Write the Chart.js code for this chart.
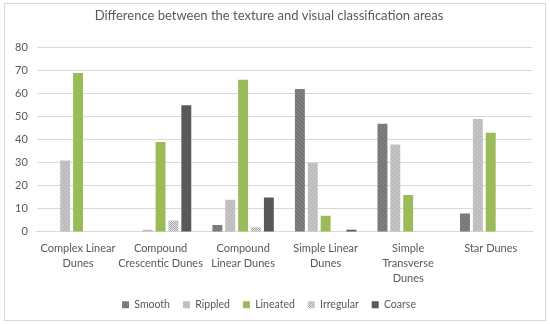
<!DOCTYPE html>
<html>
<head>
<meta charset="utf-8">
<script src="https://cdn.jsdelivr.net/npm/chart.js@4.4.0/dist/chart.umd.min.js"></script>
<style>
  body { margin: 0; background: #fff; }
  #wrap { position: absolute; left: 4px; top: 3px; width: 540px; height: 316px; border: 1px solid #d9d9d9; }
  canvas { position: absolute; left: 0; top: 0; }
</style>
</head>
<body>
<div id="wrap"></div>
<canvas id="chart" width="550" height="324"></canvas>
<script>
const categories = [
  ["Complex Linear", "Dunes"],
  ["Compound", "Crescentic Dunes"],
  ["Compound", "Linear Dunes"],
  ["Simple Linear", "Dunes"],
  ["Simple", "Transverse", "Dunes"],
  ["Star Dunes"]
];
const smooth = [0, 0, 3, 62, 47, 8];
const rippled = [31, 1, 14, 30, 38, 49];
const lineated = [69, 39, 66, 7, 16, 43];
const irregular = [0, 5, 2, 0, 0, 0];
const coarse = [0, 55, 15, 1, 0, 0];

// small textures like the excel fills
function makePattern(c1, c2, kind) {
  const p = document.createElement("canvas");
  p.width = 4; p.height = 4;
  const g = p.getContext("2d");
  g.fillStyle = c1;
  g.fillRect(0, 0, 4, 4);
  g.fillStyle = c2;
  if (kind === "diag") {
    for (let i = 0; i < 4; i++) g.fillRect(i, i, 1, 1);
  } else {
    g.fillRect(0, 0, 1, 1); g.fillRect(2, 0, 1, 1);
    g.fillRect(1, 1, 1, 1); g.fillRect(3, 1, 1, 1);
    g.fillRect(0, 2, 1, 1); g.fillRect(2, 2, 1, 1);
    g.fillRect(1, 3, 1, 1); g.fillRect(3, 3, 1, 1);
  }
  return g.createPattern(p, "repeat");
}

const ctx = document.getElementById("chart").getContext("2d");
const smoothFill = makePattern("#7f7f7f", "#6e6e6e", "diag");
const rippledFill = makePattern("#c4c4c4", "#b4b4b4", "diag");
const irregularFill = makePattern("#e6e6e6", "#a6a6a6", "check");

const fontFam = "Lato, 'Open Sans', sans-serif";

new Chart(ctx, {
  type: "bar",
  data: {
    labels: categories,
    datasets: [
      { label: "Smooth", data: smooth, backgroundColor: smoothFill },
      { label: "Rippled", data: rippled, backgroundColor: rippledFill },
      { label: "Lineated", data: lineated, backgroundColor: "#9bbb59" },
      { label: "Irregular", data: irregular, backgroundColor: irregularFill },
      { label: "Coarse", data: coarse, backgroundColor: "#595959" }
    ]
  },
  options: {
    responsive: false,
    animation: false,
    layout: { padding: { left: 6, right: 18, top: 6, bottom: 4 } },
    datasets: { bar: { categoryPercentage: 0.78, barPercentage: 0.77 } },
    plugins: {
      title: {
        display: true,
        text: "Difference between the texture and visual classification areas",
        color: "#595959",
        font: { family: fontFam, size: 13, weight: "normal" },
        padding: { top: 2, bottom: 24 }
      },
      legend: {
        position: "bottom",
        labels: {
          boxWidth: 7, boxHeight: 7, padding: 13,
          color: "#595959",
          font: { family: fontFam, size: 10.5 }
        }
      },
      tooltip: { enabled: false }
    },
    scales: {
      x: {
        grid: { display: false },
        border: { color: "#d9d9d9" },
        ticks: {
          color: "#595959", maxRotation: 0, autoSkip: false, padding: 1,
          font: { family: fontFam, size: 11, lineHeight: 1.35 }
        }
      },
      y: {
        min: 0, max: 80,
        ticks: {
          stepSize: 10, color: "#595959", padding: 9,
          font: { family: fontFam, size: 11 }
        },
        grid: { color: "#d9d9d9", drawTicks: false },
        border: { display: false }
      }
    }
  }
});
</script>
</body>
</html>
